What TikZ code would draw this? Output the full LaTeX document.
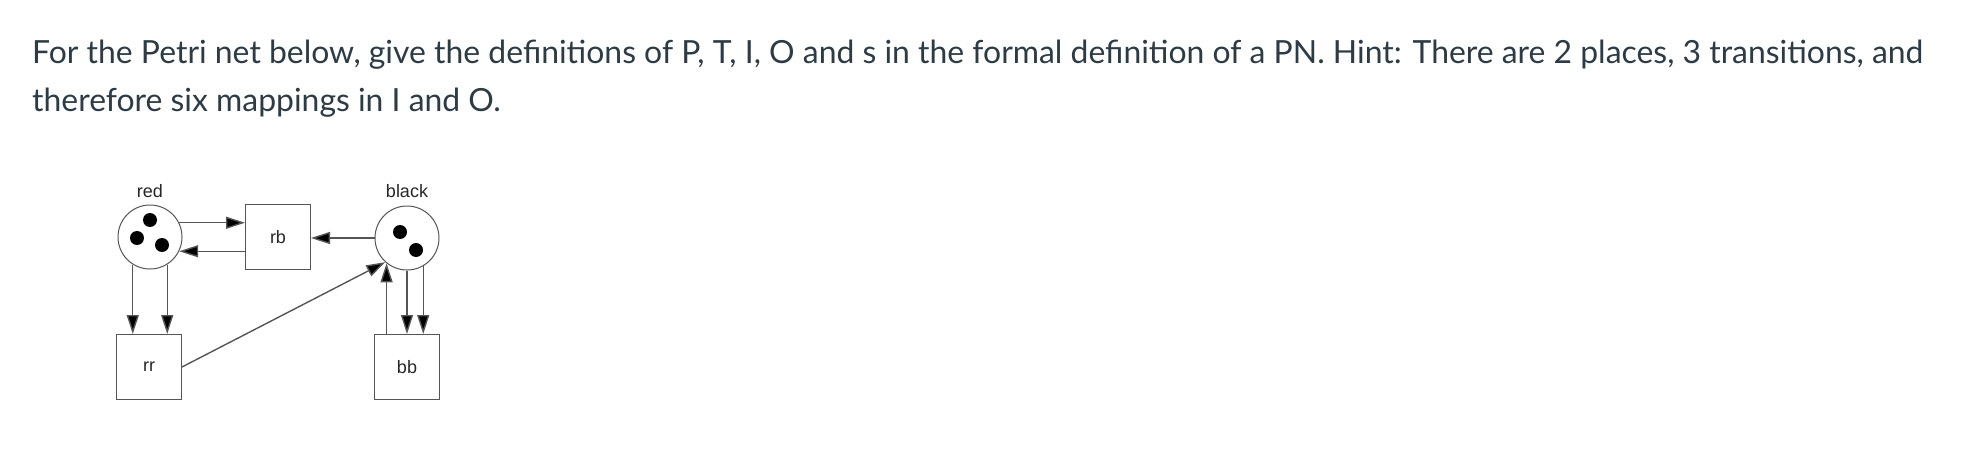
\documentclass[tikz,border=0pt]{standalone}
\usepackage{fontspec}
\setmainfont{Lato}
\newfontfamily\netfont{Liberation Sans}
\usetikzlibrary{arrows.meta}
\definecolor{qtext}{HTML}{2D3B45}
\definecolor{netline}{HTML}{555555}
\tikzstyle{place}=[draw=netline,line width=1pt,shape=circle,minimum size=64pt,inner sep=0pt]
\tikzstyle{transition}=[draw=netline,line width=1pt,shape=rectangle,minimum size=65pt,inner sep=0pt,font=\netfont\fontsize{18}{20}\selectfont,text=black!85]
\tikzstyle{placelabel}=[anchor=base,inner sep=0pt,font=\netfont\fontsize{18}{20}\selectfont,text=black!85]
\tikzstyle{arc}=[draw=netline,line width=1.4pt,-{Triangle[length=19pt,width=12pt,fill=black]}]
\tikzstyle{question}=[anchor=base west,inner sep=0pt,font=\fontsize{31.9}{36}\selectfont,text=qtext]

\begin{document}
\begin{tikzpicture}[x=1pt, y=-1pt]
	\useasboundingbox (0,0) rectangle (1988,476);
	\node[question] (line1) at (32,64) {For the Petri net below, give the definitions of P, T, I, O and s in the formal definition of a PN. Hint: There are 2 places, 3 transitions, and};
	\node[question] (line2) at (32,112) {therefore six mappings in I and O.};

	\node[place] (red) at (150,237) {};
		\fill
			(150,220) circle (7pt)
			(137,238) circle (7pt)
			(162,245) circle (7pt);
	\node[place] (black) at (407,238) {};
		\fill
			(400,232) circle (7pt)
			(416,250) circle (7pt);
	\node[placelabel] (redname) at (150,197) {red};
	\node[placelabel] (blackname) at (407,197) {black};

	\node[transition] (rb) at (278,237) {rb};
	\node[transition] (rr) at (149,367) {rr};
	\node[transition] (bb) at (407,367) {bb};

	\draw[arc] (red.26) -- (red.26 -| rb.west);
	\draw[arc] (red.-26 -| rb.west) -- (red.-26);
	\draw[arc] (black.west) -- (black.west -| rb.east);
	\draw[arc] (red.-122) -- (red.-122 |- rr.north);
	\draw[arc] (red.-58) -- (red.-58 |- rr.north);
	\draw[arc] (rr.east) -- (black.-132);
	\draw[arc] (black.-129 |- bb.north) -- (black.-129);
	\draw[arc] (black.south) -- (black.south |- bb.north);
	\draw[arc] (black.-60) -- (black.-60 |- bb.north);
\end{tikzpicture}
\end{document}
